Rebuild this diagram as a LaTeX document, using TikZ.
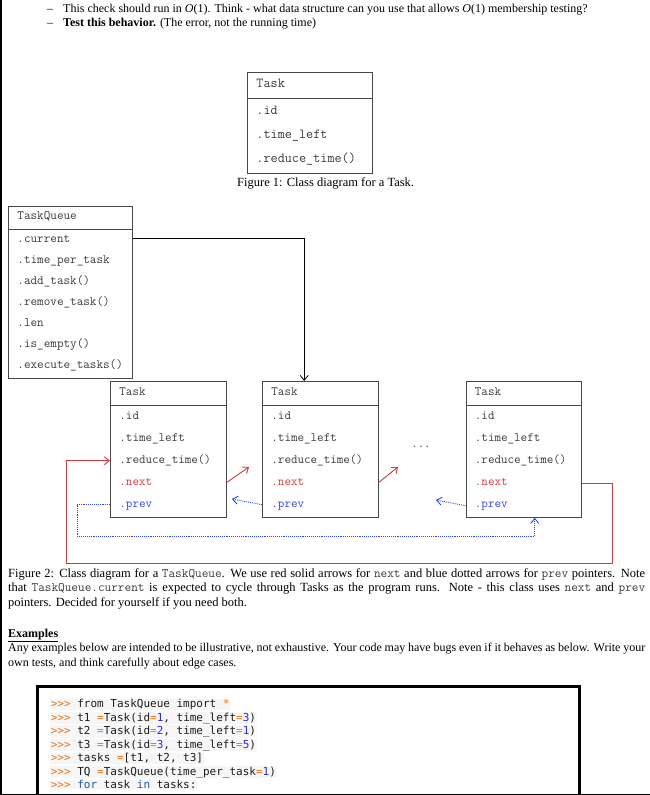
\documentclass[tikz,border=0pt]{standalone}
\usepackage{fontspec}
\setmainfont{Liberation Serif}
\newfontfamily\codefont{DejaVu Sans Mono}
\usetikzlibrary{arrows.meta,positioning,shapes.multipart}
\definecolor{boxgray}{HTML}{474747}
\definecolor{monogray}{HTML}{3A3A3A}
\definecolor{nextred}{HTML}{D43A3A}
\definecolor{prevblue}{HTML}{3048E8}
\definecolor{codeorange}{HTML}{E6761C}
\definecolor{codenum}{HTML}{2A2AD8}
\definecolor{codekw}{HTML}{2856A8}
\definecolor{codetext}{HTML}{1E1E1E}
\definecolor{codebg}{HTML}{F6F6F6}
\newcommand{\rowa}{\rule[-9pt]{0pt}{22pt}}
\newcommand{\rowb}{\rule[-8.5pt]{0pt}{21pt}}
\newcommand{\rowc}{\rule[-10pt]{0pt}{24pt}}
\newcommand{\cw}[1]{{\ttfamily\fontsize{12.9}{14}\selectfont\color{monogray}#1}}
\newcommand{\cpr}{\textcolor{codeorange}{>>>}}
\newcommand{\ceq}{\textcolor{codeorange}{=}}
\newcommand{\cnum}[1]{\textcolor{codenum}{#1}}
\newcommand{\ckw}[1]{\textcolor{codekw}{#1}}
\begin{document}
\begin{tikzpicture}[x=1pt,y=-1pt,
 cls/.style={rectangle split,rectangle split parts=2,draw=boxgray,line width=0.9pt,
   align=left,inner xsep=9pt,text=monogray,anchor=north west},
 taskcls/.style={cls,text width=97.5pt,inner ysep=0.5pt,font=\ttfamily\fontsize{12.7}{22}\selectfont},
 queuecls/.style={cls,text width=106pt,inner ysep=0.5pt,font=\ttfamily\fontsize{12.8}{21}\selectfont},
 bigcls/.style={cls,text width=107pt,inner ysep=0.75pt,font=\ttfamily\fontsize{13.8}{24}\selectfont},
 ptr/.style={-{Straight Barb[length=5pt,width=8pt]},line width=0.8pt,draw=black},
 nextline/.style={line width=0.9pt,draw=nextred},
 nextarr/.style={nextline,-{Straight Barb[length=5pt,width=8pt]}},
 prevarr/.style={-{Straight Barb[length=5pt,width=8pt]},densely dotted,line width=0.9pt,draw=prevblue},
 body/.style={anchor=base west,inner sep=0pt,font=\fontsize{12}{14}\selectfont},
 captxt/.style={anchor=base west,inner sep=0pt,font=\fontsize{12.5}{14}\selectfont},
 codeln/.style={anchor=base west,inner sep=0.6pt,fill=codebg,text=codetext,
   font=\codefont\fontsize{11}{13.5}\selectfont},
 codeframe/.style={line width=3pt,draw=black}]
\useasboundingbox (0,0) rectangle (650,795);
\clip (0,0) rectangle (650,795);
\draw[line width=1.5pt] (0.75,0) -- (0.75,795);
\draw[line width=1pt] (0,794.5) -- (650,794.5);

\node[body] (top1) at (47,12.5) {\makebox[16pt][l]{–}This check should run in \textit{O}(1). Think - what data structure can you use that allows \textit{O}(1) membership testing?};
\node[body] (top2) at (47,26.5) {\makebox[16pt][l]{–}\textbf{Test this behavior.} (The error, not the running time)};

\node[bigcls] (ftask) at (247,72) {\rowc Task\nodepart{second}\rowc .id\\\rowc .time\_left\\\rowc .reduce\_time()};
\node[captxt] (fig1) at (237,186.5) {Figure 1: Class diagram for a Task.};

\node[queuecls] (queue) at (8,206) {\rowb TaskQueue\nodepart{second}\rowb .current\\\rowb .time\_per\_task\\\rowb .add\_task()\\\rowb .remove\_task()\\\rowb .len\\\rowb .is\_empty()\\\rowb .execute\_tasks()};

\node[taskcls] (tA) at (110,381) {\rowa Task\nodepart{second}\rowa .id\\\rowa .time\_left\\\rowa .reduce\_time()\\\rowa\textcolor{nextred}{.next}\\\rowa\textcolor{prevblue}{.prev}};
\node[taskcls] (tB) at (262,381) {\rowa Task\nodepart{second}\rowa .id\\\rowa .time\_left\\\rowa .reduce\_time()\\\rowa\textcolor{nextred}{.next}\\\rowa\textcolor{prevblue}{.prev}};
\node[taskcls] (tC) at (465.5,381) {\rowa Task\nodepart{second}\rowa .id\\\rowa .time\_left\\\rowa .reduce\_time()\\\rowa\textcolor{nextred}{.next}\\\rowa\textcolor{prevblue}{.prev}};
\node[font=\ttfamily\fontsize{12.5}{13}\selectfont,text=monogray,inner sep=0pt] (dots) at (421,447) {...};

\coordinate (anext) at (249,467);
\coordinate (bnext) at (398,467);
\coordinate (bprev) at (232,499);
\coordinate (cprev) at (436,500);
\coordinate (redR) at (612,563);
\coordinate (redL) at (66,563);
\coordinate (blueL) at (77,536);

\draw[ptr] ([yshift=-32pt]queue.north east) -| ([xshift=-16pt]tB.north);
\draw[nextarr] ([yshift=35pt]tA.south east) -- (anext);
\draw[nextarr] ([yshift=35pt]tB.south east) -- (bnext);
\draw[nextarr] ([yshift=34pt]tC.south east) -| (redR) -- (redL) |- ([yshift=57pt]tA.south west);
\draw[prevarr] ([yshift=13pt]tB.south west) -- (bprev);
\draw[prevarr] ([yshift=12pt]tC.south west) -- (cprev);
\draw[prevarr] ([yshift=13pt]tA.south west) -| (blueL) -| ([xshift=11pt]tC.south);

\node[captxt] (cap1) at (8,577) {\makebox[637pt][s]{Figure 2: Class diagram for a \cw{TaskQueue}. We use red solid arrows for \cw{next} and blue dotted arrows for \cw{prev} pointers. Note}};
\node[captxt] (cap2) at (8,591.5) {\makebox[637pt][s]{that \cw{TaskQueue.current} is expected to cycle through Tasks as the program runs. Note - this class uses \cw{next} and \cw{prev}}};
\node[captxt] (cap3) at (8,606) {pointers. Decided for yourself if you need both.};

\node[body] (exhead) at (8,637.5) {\textbf{\underline{Examples}}};
\node[body] (ex1) at (8,651.5) {\makebox[637pt][s]{Any examples below are intended to be illustrative, not exhaustive. Your code may have bugs even if it behaves as below. Write your}};
\node[body] (ex2) at (8,666) {own tests, and think carefully about edge cases.};

\draw[codeframe] (37,800) |- (579,686) -- (579,800);
\node[codeln] (c1) at (50,707.5) {\cpr{} from TaskQueue import \textcolor{codeorange}{*}};
\node[codeln] (c2) at (50,721) {\cpr{} t1 \ceq{}Task(id\ceq\cnum{1}, time\_left\ceq\cnum{3})};
\node[codeln] (c3) at (50,734.5) {\cpr{} t2 \ceq{}Task(id\ceq\cnum{2}, time\_left\ceq\cnum{1})};
\node[codeln] (c4) at (50,748) {\cpr{} t3 \ceq{}Task(id\ceq\cnum{3}, time\_left\ceq\cnum{5})};
\node[codeln] (c5) at (50,761.5) {\cpr{} tasks \ceq{}[t1, t2, t3]};
\node[codeln] (c6) at (50,775) {\cpr{} TQ \ceq{}TaskQueue(time\_per\_task\ceq\cnum{1})};
\node[codeln] (c7) at (50,788.5) {\cpr{} \ckw{for} task \ckw{in} tasks:};
\end{tikzpicture}
\end{document}
